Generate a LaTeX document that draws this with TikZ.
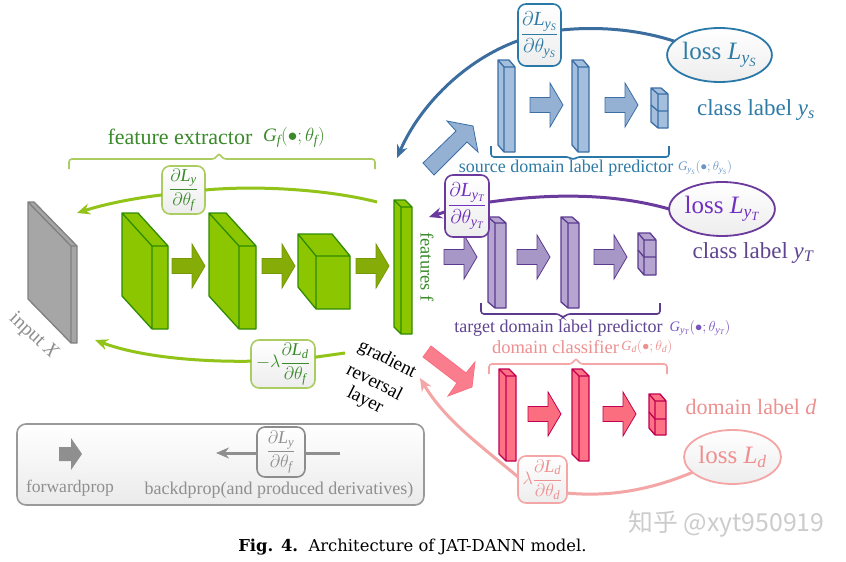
\RequirePackage{fix-cm}
\documentclass[tikz,border=0pt]{standalone}
\usepackage{fontspec}
\setmainfont{Liberation Serif}
\newfontfamily\capfont{DejaVu Serif}
\newfontfamily\cjkfont{Noto Sans CJK SC}
\usetikzlibrary{shapes.geometric,arrows.meta}
\definecolor{gFill}{HTML}{8CC600}\definecolor{gEdge}{HTML}{2E8B00}\definecolor{gArrow}{HTML}{86AC08}\definecolor{gLine}{HTML}{92C318}\definecolor{gText}{HTML}{3A8A2A}\definecolor{gBox}{HTML}{AACC60}
\definecolor{bFill}{HTML}{A3BFDD}\definecolor{bEdge}{HTML}{3A6EA5}\definecolor{bArrow}{HTML}{94B0D3}\definecolor{bLine}{HTML}{3B6E9E}\definecolor{bText}{HTML}{2E7BA6}\definecolor{bBox}{HTML}{2A78A8}\definecolor{bG}{HTML}{6A94C4}
\definecolor{pFill}{HTML}{B5A5D0}\definecolor{pEdge}{HTML}{5B3A8F}\definecolor{pArrow}{HTML}{A797C6}\definecolor{pLine}{HTML}{6A3A9C}\definecolor{pText}{HTML}{5F4590}\definecolor{pLoss}{HTML}{7030C0}\definecolor{pG}{HTML}{7A55C0}
\definecolor{rFill}{HTML}{FF7285}\definecolor{rEdge}{HTML}{C0004F}\definecolor{rArrow}{HTML}{FA6E80}\definecolor{rLine}{HTML}{F4A5A5}\definecolor{rText}{HTML}{EE9090}
\definecolor{gyFill}{HTML}{A6A6A6}\definecolor{gyEdge}{HTML}{808080}\definecolor{gyText}{HTML}{8F8F8F}
\newcommand{\fsz}[1]{\fontsize{#1}{#1}\selectfont}
\newcommand{\iL}{\mathit{L}}
\newcommand{\iG}{\mathit{G}}
\newcommand{\iy}{\mathit{y}}
\newcommand{\iT}{\mathit{T}}
\newcommand{\iS}{\mathit{S}}
\newcommand{\id}{\mathit{d}}
\newcommand{\iF}{\mathit{f}}
\newcommand{\cuboid}[7]{%
  \filldraw[fill=#1,draw=#1Edge,line width=1.3pt,line join=round]
    (#2,#3)--({#2-#6},{#3-#7})--({#4-#6},{#3-#7})--(#4,#3)--cycle
    (#2,#3)--({#2-#6},{#3-#7})--({#2-#6},{#5-#7})--(#2,#5)--cycle
    (#2,#3) rectangle (#4,#5);}
\newcommand{\barrow}[4]{% style, x start, y centre, edge
  \filldraw[fill=#1,draw=#4,line width=0.8pt,line join=miter]
    (#2,{#3-7.5})--({#2+20},{#3-7.5})--({#2+20},{#3-22})--({#2+33},#3)--({#2+20},{#3+22})--({#2+20},{#3+7.5})--(#2,{#3+7.5})--cycle;}
\newcommand{\mybrace}[7]{% colour,x1,x2,xc,yend,ybar,ytip
  \draw[#1,line width=1.6pt,rounded corners=3pt] (#2,#5)--(#2,#6)--({#4-4},#6)--(#4,#7)--({#4+4},#6)--(#3,#6)--(#3,#5);}
\tikzset{
  lbl/.style={inner sep=0pt,outer sep=0pt,anchor=center},
  gradbox/.style={rounded corners=8pt,line width=1.6pt,inner sep=0pt,outer sep=0pt,top color=white,bottom color=black!7,minimum width=#1},
  lossnode/.style={ellipse,line width=1.8pt,inner sep=0pt,outer sep=0pt,minimum width=97pt,minimum height=54pt,top color=white,bottom color=black!7},
  back/.style={line width=3pt,-{Stealth[length=13pt,width=11pt]}},
  backplain/.style={line width=3pt},
}
\begin{document}
\begin{tikzpicture}[x=1pt,y=-1pt]
\useasboundingbox[fill=white] (0,0) rectangle (846,562);
\colorlet{gFillEdge}{gEdge}\colorlet{bFillEdge}{bEdge}\colorlet{pFillEdge}{pEdge}\colorlet{rFillEdge}{rEdge}\colorlet{gyFillEdge}{gyEdge}
% input
\cuboid{gyFill}{71}{246}{77}{343}{43}{44}
\node[lbl,gyText,rotate=-43] (inp) at (33,336) {\fsz{20}input $\mathit{X}$};
% feature extractor
\cuboid{gFill}{152}{246}{168}{329}{30}{33}
\cuboid{gFill}{239}{246}{256}{329}{30}{33}
\cuboid{gFill}{316}{256}{350}{309}{18}{22}
\cuboid{gFill}{401}{207}{412}{334}{7}{7}
\barrow{gArrow}{172}{266}{gArrow!88!black}
\barrow{gArrow}{262}{266}{gArrow!88!black}
\barrow{gArrow}{356}{266}{gArrow!88!black}
\mybrace{gBox}{69}{375}{219}{169}{159}{153}
\node[lbl,gText] (fe) at (180,137) {\fsz{22}feature extractor};
\node[lbl,gText] (feG) at (294,137) {\fsz{19}$\iG_{\iF}(\bullet;\theta_{\iF})$};
\node[lbl,gText,rotate=-90] (ff) at (427,267) {\fsz{18.4}features f};
% source
\cuboid{bFill}{504}{67}{515}{152}{6}{7}
\cuboid{bFill}{578}{67}{589}{152}{6}{7}
\cuboid{bFill}{658}{94}{668}{128}{7}{6}
\draw[bEdge,line width=1.3pt] (651,105)--(658,111)--(668,111);
\barrow{bArrow}{530}{105}{bEdge}
\barrow{bArrow}{605}{105}{bEdge}
\filldraw[fill=bArrow,draw=bEdge,line width=0.8pt] (423,163)--(456,131)--(447,121)--(473,126)--(478,152)--(467,142)--(434,175)--cycle;
\mybrace{bBox}{491}{669}{573}{146}{157}{160}
\node[lbl,bText] (sl) at (566,168) {\fsz{18}source domain label predictor};
\node[lbl,bG] (slG) at (705,168) {\fsz{13}$\iG_{\iy_{\iS}}(\bullet;\theta_{\iy_{\iS}})$};
\node[lbl,bText] (cs) at (756,110) {\fsz{23}class label $\iy_{\mathit{s}}$};
% target
\cuboid{pFill}{495}{223}{506}{308}{7}{6}
\cuboid{pFill}{568}{223}{579}{308}{7}{6}
\cuboid{pFill}{644}{240}{656}{275}{6}{7}
\draw[pEdge,line width=1.3pt] (638,250)--(644,257)--(656,257);
\barrow{pArrow}{444}{257}{pEdge}
\barrow{pArrow}{517}{257}{pEdge}
\barrow{pArrow}{594}{257}{pEdge}
\mybrace{pEdge}{481}{660}{563}{303}{314}{318}
\node[lbl,pText] (tl) at (558.5,328) {\fsz{18}target domain label predictor};
\node[lbl,pG] (tlG) at (700,328) {\fsz{14.5}$\iG_{\iy_{\iT}}(\bullet;\theta_{\iy_{\iT}})$};
\node[lbl,pText] (ct) at (753,253) {\fsz{23}class label $\iy_{\iT}$};
% domain
\cuboid{rFill}{506}{376}{516}{461}{7}{7}
\cuboid{rFill}{579}{376}{589}{461}{7}{7}
\cuboid{rFill}{655}{401}{666}{435}{6}{7}
\draw[rEdge,line width=1.3pt] (649,412)--(655,419)--(666,419);
\barrow{rArrow}{528}{414}{rEdge}
\barrow{rArrow}{603}{414}{rEdge}
\filldraw[fill=rArrow!90!white,draw=rArrow,line width=0.8pt] (423,357)--(431,346)--(466,373)--(475,362)--(472,387)--(448,396)--(457,383)--cycle;
\mybrace{rLine}{489}{667}{576}{374}{364}{358}
\node[lbl,rText] (dc) at (555.5,347) {\fsz{18.5}domain classifier};
\node[lbl,rText] (dcG) at (647,347) {\fsz{14}$\iG_{\id}(\bullet;\theta_{\id})$};
\node[lbl,rText] (dl) at (751,407) {\fsz{22}domain label $\id$};
% gradient reversal
\node[lbl,black,rotate=-27] (gr1) at (387,360) {\fsz{19}gradient};
\node[lbl,black,rotate=-27] (gr2) at (375,381) {\fsz{19}reversal};
\node[lbl,black,rotate=-27] (gr3) at (365,401) {\fsz{19}layer};
% loss nodes
\node[lossnode,draw=bBox,text=bText] (lossS) at (719.5,55) {\fsz{25}loss $\iL_{\iy_{\iS}}$};
\node[lossnode,draw=pLine,text=pLoss] (lossT) at (722,209) {\fsz{25}loss $\iL_{\iy_{\iT}}$};
\node[lossnode,draw=rLine,text=rText] (lossD) at (732.5,457) {\fsz{25}loss $\iL_{\id}$};
% derivative boxes
\node[gradbox=43pt,minimum height=62pt,draw=bBox,text=bText] (boxS) at (539.5,35) {\fsz{20}$\displaystyle\frac{\partial \iL_{\iy_{\iS}}}{\partial\theta_{\iy_{\iS}}}$};
\node[gradbox=44pt,minimum height=62pt,draw=pLine,text=pLoss] (boxT) at (467,206) {\fsz{20}$\displaystyle\frac{\partial \iL_{\iy_{\iT}}}{\partial\theta_{\iy_{\iT}}}$};
\node[gradbox=43pt,minimum height=48pt,draw=gBox,text=gText] (boxG) at (183.5,190) {\fsz{18}$\displaystyle\frac{\partial \iL_{\iy}}{\partial\theta_{\iF}}$};
\node[gradbox=64pt,minimum height=48pt,draw=gBox,text=gText] (boxR) at (283,364) {\fsz{18}$\displaystyle-\lambda\frac{\partial \iL_{\id}}{\partial\theta_{\iF}}$};
\node[gradbox=49pt,minimum height=47pt,draw=rLine,text=rText] (boxD) at (542.5,479.5) {\fsz{18}$\displaystyle\lambda\frac{\partial \iL_{\id}}{\partial\theta_{\id}}$};
% free ends
\coordinate (tipS) at (397,158);
\coordinate (tipT) at (429,217);
\coordinate (startG) at (377,202);
\coordinate (tipG) at (77,213);
\coordinate (startR) at (345,353);
\coordinate (tipR) at (95,340);
\coordinate (tipD) at (420,378);
% connectors
\draw[backplain,bLine] (lossS.163) .. controls (640,30) and (600,26) .. (boxS.13);
\draw[back,bLine] (boxS.195) .. controls (465,60) and (420,105) .. (tipS);
\draw[backplain,pLine] (lossT.west) .. controls (620,195) and (560,192) .. (boxT.10);
\draw[back,pLine] (boxT.195) -- (tipT);
\draw[backplain,gLine] (startG) .. controls (330,190) and (260,185) .. (boxG.east);
\draw[back,gLine] (boxG.193) .. controls (135,198) and (105,204) .. (tipG);
\draw[backplain,gLine] (startR) -- (boxR.12);
\draw[back,gLine] (boxR.175) .. controls (200,362) and (140,357) .. (tipR);
\draw[backplain,rLine] (lossD.201) .. controls (650,490) and (610,497) .. (boxD.331);
\draw[back,rLine] (boxD.174) .. controls (480,445) and (445,420) .. (tipD);
% legend
\node[rounded corners=9pt,draw=black!40,line width=1.6pt,top color=white,bottom color=black!8,minimum width=407pt,minimum height=81pt,inner sep=0pt] (legend) at (220.5,464.5) {};
\fill[gyText] (59,447)--(71,447)--(71,438)--(82,454)--(71,470)--(71,461)--(59,461)--cycle;
\node[lbl,gyText] (fp) at (70,488) {\fsz{17.6}forwardprop};
\node[lbl,gyText] (bp) at (279,490) {\fsz{18}backdprop(and produced derivatives)};
\node[gradbox=48pt,minimum height=50pt,draw=black!45,text=gyText] (boxL) at (281,452) {\fsz{18}$\displaystyle\frac{\partial \iL_{\iy}}{\partial\theta_{\iF}}$};
\coordinate (startL) at (340,453);
\coordinate (tipL) at (216,453);
\draw[backplain,gyText] (startL) -- (boxL.east |- startL);
\draw[back,gyText] (boxL.west |- tipL) -- (tipL);
% caption and mark
\node[lbl,black] (cap) at (412.5,547) {\capfont\fsz{16.4}\textbf{Fig. 4.}\ \ Architecture of JAT-DANN model.};
\node[lbl,black!20] (mark) at (726.5,524) {\fsz{24.8}\cjkfont 知乎 @xyt950919};
\end{tikzpicture}
\end{document}
